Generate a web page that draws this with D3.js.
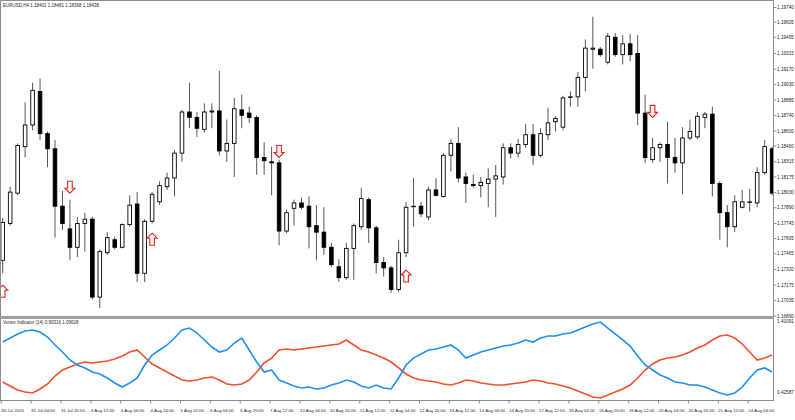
<!DOCTYPE html>
<html>
<head>
<meta charset="utf-8">
<script src="https://cdn.jsdelivr.net/npm/d3@7"></script>
<style>
  html, body { margin: 0; padding: 0; background: #fff; }
  svg { display: block; }
  text { font-family: "Liberation Sans", "DejaVu Sans", sans-serif; fill: #262626; }
</style>
</head>
<body>
<svg id="chart" width="795" height="420"></svg>
<script>
// EURUSD H4 candles, bar 0 = 30 Jul 2020 12:00
const opens = [1.1740,1.1774,1.1802,1.1845,1.1865,1.1896,1.1857,1.1843,1.1790,1.1769,
  1.1752,1.1774,1.1778,1.1706,1.1747,1.1759,1.1752,1.1773,1.1792,1.1728,
  1.1776,1.1794,1.1808,1.1816,1.1839,1.1877,1.1872,1.1861,1.1877,1.1878,
  1.1841,1.1848,1.1879,1.1876,1.1872,1.1835,1.1831,1.1830,1.1767,1.1788,
  1.1793,1.1790,1.1772,1.1766,1.1752,1.1734,1.1724,1.1751,1.1771,1.1796,
  1.1770,1.1738,1.1733,1.1713,1.1747,1.1790,1.1790,1.1780,1.1805,1.1799,
  1.1837,1.1848,1.1817,1.1810,1.1809,1.1811,1.1815,1.1817,1.1844,1.1839,
  1.1847,1.1856,1.1837,1.1856,1.1868,1.1863,1.1891,1.1891,1.1909,1.1935,
  1.1935,1.1923,1.1946,1.1930,1.1940,1.1931,1.1876,1.1833,1.1844,1.1847,
  1.1835,1.1830,1.1853,1.1854,1.1872,1.1875,1.1811,1.1784,1.1771,1.1789,
  1.1794,1.1793,1.1821,1.1843];
const highs = [1.1779,1.1808,1.1848,1.1886,1.1904,1.1908,1.1859,1.1851,1.1804,1.1796,
  1.1780,1.1784,1.1780,1.1750,1.1766,1.1762,1.1774,1.1800,1.1803,1.1778,
  1.1803,1.1813,1.1821,1.1842,1.1879,1.1904,1.1877,1.1885,1.1885,1.1915,
  1.1870,1.1890,1.1893,1.1882,1.1874,1.1849,1.1845,1.1833,1.1787,1.1796,
  1.1798,1.1799,1.1791,1.1789,1.1756,1.1741,1.1756,1.1774,1.1807,1.1798,
  1.1772,1.1743,1.1735,1.1759,1.1794,1.1816,1.1794,1.1808,1.1816,1.1839,
  1.1852,1.1863,1.1821,1.1819,1.1817,1.1825,1.1828,1.1848,1.1848,1.1852,
  1.1866,1.1866,1.1862,1.1881,1.1873,1.1892,1.1896,1.1914,1.1944,1.1965,
  1.1937,1.1950,1.1950,1.1948,1.1949,1.1948,1.1893,1.1853,1.1849,1.1868,
  1.1853,1.1863,1.1870,1.1877,1.1877,1.1882,1.1813,1.1791,1.1800,1.1805,
  1.1806,1.1826,1.1851,1.1845];
const lows = [1.1728,1.1772,1.1800,1.1835,1.1860,1.1851,1.1826,1.1761,1.1768,1.1740,
  1.1743,1.1748,1.1704,1.1696,1.1745,1.1750,1.1751,1.1771,1.1720,1.1720,
  1.1774,1.1791,1.1805,1.1799,1.1831,1.1862,1.1854,1.1858,1.1862,1.1837,
  1.1831,1.1817,1.1862,1.1867,1.1819,1.1819,1.1800,1.1754,1.1765,1.1772,
  1.1787,1.1751,1.1740,1.1745,1.1734,1.1720,1.1722,1.1722,1.1768,1.1756,
  1.1728,1.1725,1.1710,1.1711,1.1743,1.1771,1.1780,1.1777,1.1799,1.1798,
  1.1822,1.1812,1.1793,1.1807,1.1798,1.1789,1.1780,1.1810,1.1834,1.1835,
  1.1844,1.1828,1.1835,1.1851,1.1859,1.1860,1.1882,1.1882,1.1896,1.1917,
  1.1928,1.1921,1.1928,1.1921,1.1924,1.1865,1.1830,1.1830,1.1831,1.1811,
  1.1821,1.1801,1.1851,1.1852,1.1862,1.1799,1.1759,1.1752,1.1766,1.1788,
  1.1785,1.1789,1.1819,1.1800];
const closes = [1.1775,1.1803,1.1846,1.1865,1.1897,1.1857,1.1843,1.1790,1.1774,1.1752,
  1.1774,1.1778,1.1706,1.1748,1.1761,1.1752,1.1773,1.1791,1.1728,1.1776,
  1.1801,1.1809,1.1816,1.1839,1.1877,1.1872,1.1862,1.1877,1.1878,1.1841,
  1.1848,1.1880,1.1874,1.1872,1.1835,1.1832,1.1830,1.1767,1.1784,1.1793,
  1.1789,1.1771,1.1766,1.1752,1.1736,1.1724,1.1751,1.1772,1.1797,1.1770,
  1.1738,1.1733,1.1713,1.1747,1.1789,1.1790,1.1783,1.1805,1.1800,1.1837,
  1.1848,1.1816,1.1811,1.1809,1.1812,1.1815,1.1818,1.1844,1.1839,1.1847,
  1.1856,1.1837,1.1857,1.1867,1.1871,1.1890,1.1891,1.1909,1.1936,1.1936,
  1.1930,1.1947,1.1930,1.1940,1.1930,1.1876,1.1835,1.1844,1.1847,1.1835,
  1.1830,1.1853,1.1859,1.1873,1.1875,1.1811,1.1784,1.1771,1.1794,1.1794,
  1.1794,1.1821,1.1845,1.1802];

// signal arrows (bar, direction, price at arrow tip)
const arrowBars = [0, 9, 20, 37, 54, 87];
const arrowDirs = ["up", "down", "up", "down", "up", "down"];
const arrowPrices = [1.1717, 1.1802, 1.1765, 1.1835, 1.1731, 1.1872];

// Vortex Indicator (14)
const viPlus = [1.142,1.193,1.245,1.283,1.296,1.270,1.206,1.104,1.014,0.912,
  0.848,0.810,0.758,0.733,0.682,0.618,0.566,0.618,0.682,0.848,
  0.976,1.040,1.104,1.193,1.296,1.321,1.257,1.168,1.078,1.014,
  1.040,1.129,1.193,1.040,0.886,0.758,0.784,0.656,0.618,0.579,
  0.554,0.566,0.541,0.554,0.592,0.618,0.656,0.630,0.579,0.554,
  0.592,0.554,0.541,0.682,0.848,0.937,0.989,1.040,1.053,1.078,
  1.104,1.040,0.937,0.976,1.014,1.040,1.065,1.091,1.104,1.129,
  1.168,1.142,1.193,1.219,1.219,1.245,1.257,1.296,1.334,1.373,
  1.398,1.321,1.245,1.168,1.091,0.963,0.848,0.784,0.720,0.682,
  0.630,0.618,0.592,0.592,0.566,0.528,0.490,0.464,0.490,0.566,
  0.682,0.784,0.810,0.758];
const viMinus = [0.630,0.579,0.528,0.502,0.490,0.541,0.605,0.707,0.784,0.822,
  0.861,0.886,0.874,0.886,0.899,0.925,0.963,1.014,1.040,0.950,
  0.861,0.810,0.758,0.707,0.656,0.643,0.656,0.682,0.694,0.656,
  0.605,0.592,0.605,0.656,0.758,0.874,0.937,1.040,1.053,1.040,
  1.053,1.065,1.078,1.091,1.104,1.117,1.168,1.104,1.040,1.014,
  0.976,0.937,0.886,0.810,0.733,0.682,0.656,0.643,0.630,0.605,
  0.592,0.618,0.656,0.643,0.618,0.605,0.592,0.592,0.605,0.618,
  0.630,0.656,0.643,0.618,0.605,0.579,0.554,0.515,0.477,0.438,
  0.426,0.464,0.502,0.541,0.592,0.682,0.784,0.861,0.912,0.937,
  0.950,0.976,1.014,1.065,1.104,1.168,1.219,1.232,1.193,1.117,
  1.014,0.912,0.937,0.976];

const priceTicks = [1.19740,1.19605,1.19465,1.19315,1.19170,1.19030,1.18885,1.18740,1.18600,1.18460,
  1.18315,1.18175,1.18030,1.17890,1.17745,1.17605,1.17465,1.17320,1.17175,1.17035,1.16890];
const vortexRange = [0.42587, 1.41091];
const timeLabels = ["30 Jul 2020","31 Jul 04:00","31 Jul 20:00","3 Aug 12:00","4 Aug 04:00","4 Aug 20:00",
  "5 Aug 12:00","6 Aug 04:00","6 Aug 20:00","7 Aug 12:00","10 Aug 04:00","10 Aug 20:00","11 Aug 12:00",
  "12 Aug 04:00","12 Aug 20:00","13 Aug 12:00","14 Aug 04:00","14 Aug 20:00","17 Aug 12:00","18 Aug 04:00",
  "18 Aug 20:00","19 Aug 12:00","20 Aug 04:00","20 Aug 20:00","21 Aug 12:00","24 Aug 04:00"];
const headerText = "EURUSD,H4  1.18401 1.18481 1.18368 1.18438";
const vortexText = "Vortex Indicator (14)  0.90316 1.09628";

const svg = d3.select("#chart");
const plotRight = 773.5;
const mainTop = 0.5, mainBottom = 316.5;
const subTop = 318.5, subBottom = 400.5;
const frameColor = "#8c8c8c";
const fontSize = 4.7;

const x = d3.scaleLinear().domain([0, opens.length - 1]).range([2.7, 2.7 + 7.47 * (opens.length - 1)]);
const y = d3.scaleLinear().domain([1.1689, 1.1974]).range([315.5, 7]);
const yv = d3.scaleLinear().domain(vortexRange).range([398, 321]);

const defs = svg.append("defs");
defs.append("clipPath").attr("id", "clip-main")
  .append("rect").attr("x", 0.5).attr("y", mainTop).attr("width", plotRight - 0.5).attr("height", mainBottom - mainTop);
defs.append("clipPath").attr("id", "clip-sub")
  .append("rect").attr("x", 0.5).attr("y", subTop).attr("width", plotRight - 0.5).attr("height", subBottom - subTop);

// candles
const candles = opens.map((o, i) => ({ i, o, h: highs[i], l: lows[i], c: closes[i] }));
const candleGroup = svg.append("g").attr("clip-path", "url(#clip-main)");
const bodyW = 3.6;

candleGroup.selectAll("line.wick").data(candles).join("line")
  .attr("class", "wick")
  .attr("x1", d => x(d.i)).attr("x2", d => x(d.i))
  .attr("y1", d => y(d.h)).attr("y2", d => y(d.l))
  .attr("stroke", "#555").attr("stroke-width", 1);

candleGroup.selectAll("rect.body").data(candles).join("rect")
  .attr("class", "body")
  .attr("x", d => x(d.i) - bodyW / 2)
  .attr("y", d => y(Math.max(d.o, d.c)))
  .attr("width", bodyW)
  .attr("height", d => Math.max(0.6, Math.abs(y(d.o) - y(d.c))))
  .attr("fill", d => (d.c < d.o ? "#000" : "#fff"))
  .attr("stroke", "#000").attr("stroke-width", 0.9);

// red signal arrows
function arrowPath(dir) {
  const s = dir === "up" ? 1 : -1;
  return `M0,0 L5,${5 * s} L2.3,${5 * s} L2.3,${12 * s} L-2.3,${12 * s} L-2.3,${5 * s} L-5,${5 * s} Z`;
}
candleGroup.selectAll("path.arrow").data(arrowBars).join("path")
  .attr("class", "arrow")
  .attr("transform", (b, k) => `translate(${x(b)},${y(arrowPrices[k])})`)
  .attr("d", (b, k) => arrowPath(arrowDirs[k]))
  .attr("fill", "#fff").attr("stroke", "#e8201c").attr("stroke-width", 1.1);

// vortex lines
const lineGen = d3.line().x((d, i) => x(i)).y(d => yv(d));
const subGroup = svg.append("g").attr("clip-path", "url(#clip-sub)");
subGroup.append("path").datum(viMinus).attr("d", lineGen)
  .attr("fill", "none").attr("stroke", "#f0502c").attr("stroke-width", 1.6);
subGroup.append("path").datum(viPlus).attr("d", lineGen)
  .attr("fill", "none").attr("stroke", "#1f8ff0").attr("stroke-width", 1.6);

// frames
svg.append("rect").attr("x", 0.5).attr("y", mainTop).attr("width", plotRight - 0.5).attr("height", mainBottom - mainTop)
  .attr("fill", "none").attr("stroke", frameColor);
svg.append("rect").attr("x", 0.5).attr("y", subTop).attr("width", plotRight - 0.5).attr("height", subBottom - subTop)
  .attr("fill", "none").attr("stroke", frameColor);
svg.append("rect").attr("x", 0).attr("y", mainBottom).attr("width", plotRight + 0.5).attr("height", subTop - mainBottom)
  .attr("fill", "#a8a8a8");

// price axis
const priceAxis = svg.append("g").attr("transform", `translate(${plotRight},0)`)
  .call(d3.axisRight(y).tickValues(priceTicks).tickFormat(d3.format(".5f")).tickSize(3).tickSizeOuter(0));
priceAxis.select(".domain").remove();
priceAxis.selectAll(".tick line").attr("stroke", frameColor);
priceAxis.selectAll(".tick text").attr("x", 3.5).attr("dy", "0.35em")
  .attr("font-size", fontSize).attr("font-family", null);

// vortex axis labels (window max / min)
svg.append("text").attr("x", plotRight + 3.5).attr("y", subTop + 4.2)
  .attr("font-size", fontSize).text(d3.format(".5f")(vortexRange[1]));
svg.append("text").attr("x", plotRight + 3.5).attr("y", subBottom - 7)
  .attr("font-size", fontSize).text(d3.format(".5f")(vortexRange[0]));

// time axis
const timeAxis = svg.append("g").attr("transform", `translate(0,${subBottom})`)
  .call(d3.axisBottom(x).tickValues(d3.range(0, opens.length, 4)).tickFormat((d, i) => timeLabels[i]).tickSize(3).tickSizeOuter(0));
timeAxis.select(".domain").remove();
timeAxis.selectAll(".tick line").attr("stroke", frameColor).attr("transform", "translate(-2,0)");
timeAxis.selectAll(".tick text").attr("x", -2).attr("y", 11).attr("dy", 0)
  .attr("text-anchor", "start").attr("font-size", fontSize - 0.3).attr("font-family", null);

// captions
svg.append("text").attr("x", 3).attr("y", 6.6).attr("font-size", fontSize - 0.2).text(headerText);
svg.append("text").attr("x", 3).attr("y", subTop + 5.8).attr("font-size", fontSize - 0.2).text(vortexText);
</script>
</body>
</html>
